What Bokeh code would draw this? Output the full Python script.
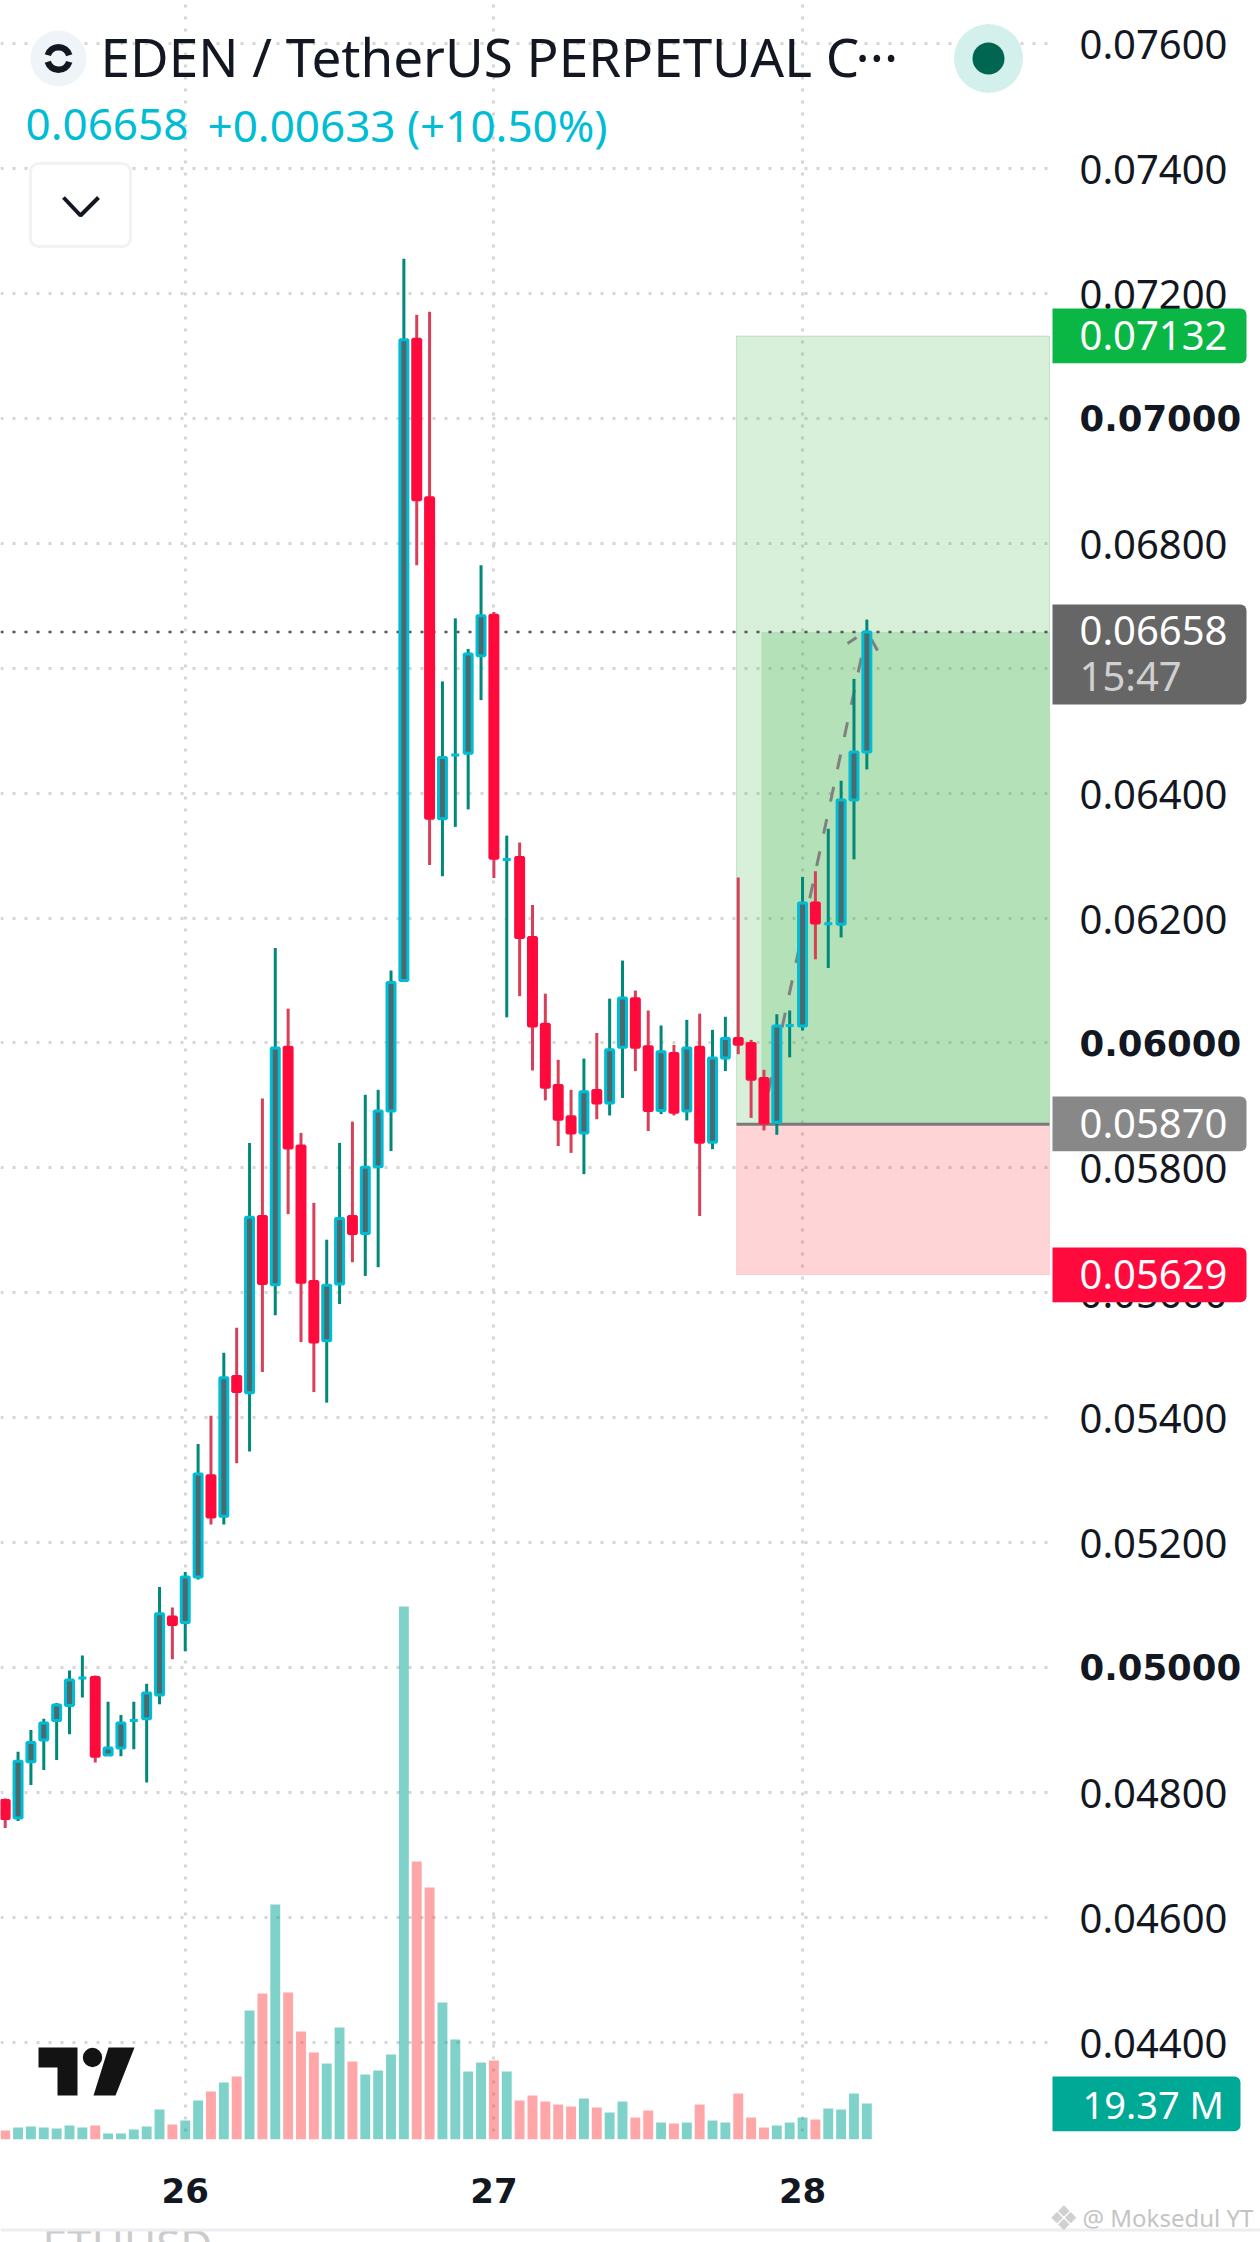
from bokeh.plotting import figure
from bokeh.models import (Range1d, FixedTicker, NumeralTickFormatter, Label, BoxAnnotation, ColumnDataSource)
from bokeh.embed import file_html
from bokeh.resources import INLINE

FONT = "Noto Sans"
BOLD_FONT = "DejaVu Sans"

opens = [0.04787,0.04759,0.04849,0.04884,0.04915,0.04939,0.04983,0.04984,0.04860,0.04871,0.04915,0.04918,0.04956,0.05081,0.05072,0.05145,0.05307,0.05242,0.05466,0.05440,0.05722,0.05613,0.05993,0.05835,0.05618,0.05523,0.05614,0.05722,0.05695,0.05802,0.05891,0.06100,0.07127,0.06873,0.06359,0.06461,0.06464,0.06620,0.06685,0.06294,0.06297,0.06169,0.06030,0.05932,0.05882,0.05856,0.05924,0.05904,0.05993,0.06071,0.05994,0.05892,0.05983,0.05891,0.05993,0.05841,0.05976,0.06007,0.05999,0.05943,0.05873,0.06028,0.06027,0.06224,0.06191,0.06190,0.06389,0.06466]
highs = [0.04790,0.04865,0.04900,0.04918,0.04943,0.04995,0.05019,0.04987,0.04945,0.04924,0.04945,0.04974,0.05129,0.05096,0.05153,0.05358,0.05403,0.05504,0.05544,0.05840,0.05911,0.06152,0.06055,0.05856,0.05744,0.05685,0.05840,0.05874,0.05917,0.05925,0.06116,0.07256,0.07166,0.07171,0.06579,0.06680,0.06631,0.06765,0.06690,0.06332,0.06321,0.06221,0.06079,0.05973,0.05925,0.05975,0.06016,0.06071,0.06132,0.06084,0.06052,0.06028,0.05997,0.06037,0.06047,0.06021,0.06042,0.06265,0.06005,0.05957,0.06046,0.06052,0.06266,0.06275,0.06343,0.06420,0.06583,0.06678]
lows = [0.04743,0.04754,0.04812,0.04836,0.04852,0.04893,0.04952,0.04848,0.04860,0.04858,0.04869,0.04816,0.04941,0.05013,0.05026,0.05141,0.05229,0.05229,0.05327,0.05346,0.05473,0.05564,0.05726,0.05521,0.05441,0.05424,0.05582,0.05649,0.05627,0.05641,0.05827,0.06100,0.06765,0.06285,0.06267,0.06346,0.06374,0.06549,0.06264,0.06041,0.06075,0.05956,0.05908,0.05835,0.05824,0.05790,0.05878,0.05884,0.05912,0.05955,0.05859,0.05886,0.05884,0.05876,0.05723,0.05830,0.05955,0.05982,0.05880,0.05860,0.05853,0.05977,0.06020,0.06134,0.06120,0.06169,0.06294,0.06438]
closes = [0.04758,0.04850,0.04880,0.04911,0.04940,0.04980,0.04983,0.04858,0.04871,0.04911,0.04915,0.04959,0.05086,0.05069,0.05145,0.05310,0.05241,0.05464,0.05442,0.05721,0.05615,0.05992,0.05832,0.05617,0.05521,0.05612,0.05719,0.05695,0.05801,0.05891,0.06097,0.07126,0.06870,0.06360,0.06457,0.06461,0.06623,0.06684,0.06296,0.06294,0.06169,0.06027,0.05929,0.05878,0.05856,0.05922,0.05904,0.05989,0.06072,0.05993,0.05892,0.05986,0.05889,0.05992,0.05841,0.05976,0.06007,0.05998,0.05942,0.05872,0.06027,0.06028,0.06224,0.06192,0.06191,0.06389,0.06466,0.06658]
volumes_m = [4.70,6.33,6.87,6.33,5.79,7.42,6.33,7.42,3.08,3.08,5.25,6.87,16.10,7.96,10.13,20.98,25.87,30.75,34.01,69.83,79.05,127.35,79.60,58.43,47.03,41.06,60.60,42.15,35.09,37.27,45.95,289.10,150.69,136.58,74.17,54.09,36.72,41.61,42.69,36.72,20.98,23.70,20.44,18.81,17.73,22.07,17.19,14.47,20.44,11.76,15.56,9.05,8.50,9.05,18.81,10.13,9.05,24.78,11.76,6.33,7.42,9.05,11.76,10.67,16.64,16.10,24.78,19.37]

price_ticks = [0.044,0.046,0.048,0.05,0.052,0.054,0.056,0.058,0.06,0.062,0.064,0.066,0.068,0.07,0.072,0.074,0.076]
bold_ticks = [0.05,0.06,0.07]
day_ticks = [14,38,62]
day_labels = ["26","27","28"]

last_price = 0.06658
entry_price = 0.05870
target_price = 0.07132
stop_price = 0.05629
position_start = 56.87
position_filled_start = 58.8
position_end = 81.2
last_index = 67

UP_BODY, UP_EDGE, UP_WICK = "#4a6b6e", "#00bcd4", "#00897b"
DN_BODY, DN_WICK = "#ff0a3c", "#d8405a"

idx = list(range(len(opens)))
up = [c >= o for o, c in zip(opens, closes)]
src = ColumnDataSource(dict(
    x=idx, o=opens, h=highs, l=lows, c=closes, v=volumes_m,
    wick=[UP_WICK if u else DN_WICK for u in up],
    fill=[UP_BODY if u else DN_BODY for u in up],
    edge=[UP_EDGE if u else DN_BODY for u in up],
    vol=["#00a693" if u else "#ff4d52" for u in up],
))

X0 = -0.3655
p = figure(width=1260, height=2242, output_backend="svg", toolbar_location=None,
           x_range=Range1d(X0, 97.61), y_range=Range1d(0.040792, 0.0766934),
           x_axis_location="below", y_axis_location="right",
           min_border_left=0, min_border_top=0, min_border_right=0, min_border_bottom=0,
           outline_line_color=None, background_fill_color="white", border_fill_color="white")
p.extra_x_ranges["px"] = Range1d(0, 1260)
p.extra_y_ranges["px"] = Range1d(2242, 0)
p.extra_y_ranges["vol"] = Range1d(-56.05, 1160.5)
PX = dict(x_range_name="px", y_range_name="px")

# axes and grids
ax = p.yaxis[0]
ax.ticker = FixedTicker(ticks=price_ticks)
ax.formatter = NumeralTickFormatter(format="0.00000")
ax.major_label_overrides = {t: " " for t in bold_ticks}
ax.axis_line_color = None
ax.major_tick_line_color = None
ax.minor_tick_line_color = None
ax.major_tick_out = 0
ax.major_label_standoff = -181
ax.major_label_text_font = FONT
ax.major_label_text_font_size = "40px"
ax.major_label_text_color = "#131722"

xa = p.xaxis[0]
xa.ticker = FixedTicker(ticks=day_ticks)
xa.major_label_overrides = dict(zip(day_ticks, day_labels))
xa.axis_line_color = None
xa.major_tick_line_color = None
xa.minor_tick_line_color = None
xa.major_tick_out = 0
xa.major_label_standoff = -65
xa.major_label_text_font = BOLD_FONT
xa.major_label_text_font_size = "34px"
xa.major_label_text_font_style = "bold"
xa.major_label_text_color = "#131722"

GRID = "#d6d6d6"
p.ygrid.ticker = FixedTicker(ticks=price_ticks)
p.xgrid.ticker = FixedTicker(ticks=day_ticks)
p.ygrid.grid_line_color = GRID
p.xgrid.grid_line_color = GRID
p.ygrid.grid_line_width = 3
p.xgrid.grid_line_width = 3
p.ygrid.grid_line_dash = "3 9"
p.xgrid.grid_line_dash = "3 9"
p.ygrid.grid_line_dash_offset = 0
p.xgrid.grid_line_dash_offset = 9

# white scale areas hide the grid outside the pane
p.quad(left=[1049], right=[1260], top=[0], bottom=[2242], fill_color="white", line_color=None, **PX)
p.quad(left=[0], right=[1260], top=[2140], bottom=[2242], fill_color="white", line_color=None, **PX)

# long position tool
p.quad(left=[position_start], right=[position_end], top=[target_price], bottom=[entry_price],
       fill_color="#3cb043", fill_alpha=0.2, line_color="#3cb043", line_alpha=0.25)
p.quad(left=[position_filled_start], right=[position_end], top=[last_price], bottom=[entry_price],
       fill_color="#3cb043", fill_alpha=0.22, line_color=None)
p.quad(left=[position_start], right=[position_end], top=[entry_price], bottom=[stop_price],
       fill_color="#ff0f20", fill_alpha=0.18, line_color="#ff0f20", line_alpha=0.12)

# volume
p.vbar(x="x", width=0.77, top="v", bottom=0, source=src, y_range_name="vol",
       fill_color="vol", fill_alpha=0.5, line_color=None)

# last price and entry lines
p.line([X0, position_end], [last_price, last_price], line_color="#555555", line_width=2.5, line_dash="3 9")
p.line([position_start, position_end], [entry_price, entry_price], line_color="#7a7a7a", line_width=3)

# dashed projection
p.line([position_filled_start, last_index], [entry_price, last_price], line_color="#808080",
       line_width=3, line_dash="15 18")
p.line([847, 856], [643, 637], line_color="#808080", line_width=3, **PX)
p.line([871, 877], [639, 650], line_color="#808080", line_width=3, **PX)

# candles
p.segment(x0="x", x1="x", y0="l", y1="h", source=src, line_color="wick", line_width=3)
p.vbar(x="x", width=0.62, top="c", bottom="o", source=src, fill_color="fill", line_color="edge", line_width=3)


def txt(x, y, s, size, color="#131722", style="normal", font=FONT, baseline="middle"):
    p.add_layout(Label(x=x, y=y, text=s, text_font=font, text_font_size=f"{size}px", text_color=color,
                       text_font_style=style, text_baseline=baseline, text_align="left", **PX))


# header
p.circle([58], [58], radius=28, fill_color="#eef4f7", line_color=None, **PX)
p.annular_wedge([58], [58], inner_radius=8, outer_radius=14.5, start_angle=[0.3], end_angle=[2.84],
                fill_color="#131722", line_color=None, **PX)
p.annular_wedge([58], [58], inner_radius=8, outer_radius=14.5, start_angle=[3.44], end_angle=[5.98],
                fill_color="#131722", line_color=None, **PX)
txt(100, 56, "EDEN / TetherUS PERPETUAL C", 53)
txt(855, 56, "···", 53)
p.circle([988], [58], radius=34.5, fill_color="#d3f0ec", line_color=None, **PX)
p.circle([988], [58], radius=16, fill_color="#006652", line_color=None, **PX)
txt(25, 124, "0.06658", 44, color="#00bcd4")
txt(207, 124, "+0.00633 (+10.50%)", 44, color="#00bcd4")
p.add_layout(BoxAnnotation(left=30, right=130, top=163, bottom=246, fill_color="white", fill_alpha=1,
                           line_color="#d4d4d4", line_width=3, border_radius=8, **PX))
p.line([63, 80, 98], [197, 215, 197], line_color="#131722", line_width=4, level="overlay", **PX)

# TradingView mark
p.patch([38, 77, 77, 57, 57, 38], [2047, 2047, 2095, 2095, 2067, 2067], fill_color="#131313", line_color=None, **PX)
p.circle([92], [2057], radius=9.7, fill_color="#131313", line_color=None, **PX)
p.patch([108, 134, 115, 93], [2047, 2047, 2095, 2095], fill_color="#131313", line_color=None, **PX)

# bold round-number price labels
for t in bold_ticks:
    p.add_layout(Label(x=1079, y=t, x_range_name="px", text=f"{t:.5f}", text_font=BOLD_FONT, text_font_size="35.5px",
                       text_font_style="bold", text_color="#131722", text_baseline="middle"))


# price tags
def tag(top, bottom, color, right=1246):
    p.add_layout(BoxAnnotation(left=1052, right=right, top=top, bottom=bottom, fill_color=color, fill_alpha=1,
                               line_color=None, border_radius=(0, 6, 6, 0), **PX))


tag(308, 362.7, "#0ab644")
tag(604, 704, "#666666")
tag(1096, 1150.7, "#888888")
tag(1247, 1301.7, "#ff0a3c")
tag(2076, 2130.7, "#00a896", right=1240)
txt(1079, 335, f"{target_price:.5f}", 40, color="white")
txt(1079, 630, f"{last_price:.5f}", 40, color="white")
txt(1079, 675, "15:47", 40, color="#d0d0d0")
txt(1079, 1123, f"{entry_price:.5f}", 40, color="white")
txt(1079, 1274, f"{stop_price:.5f}", 40, color="white")
txt(1082, 2103, f"{volumes_m[-1]:.2f} M", 38, color="white")

# footer
txt(42, 2243, "ETHUSD", 44, color="#cccccc")
p.add_layout(BoxAnnotation(left=0, right=1260, top=2228, bottom=2231, fill_color="#eeeef2", fill_alpha=1,
                           line_color=None, **PX))
txt(1048, 2217, "❖", 34, color="#d0d0d0", font="DejaVu Sans")
txt(1082, 2217, "@ Moksedul YT", 24, color="#c4c4c4")

open("out.html", "w").write(file_html(p, INLINE))
